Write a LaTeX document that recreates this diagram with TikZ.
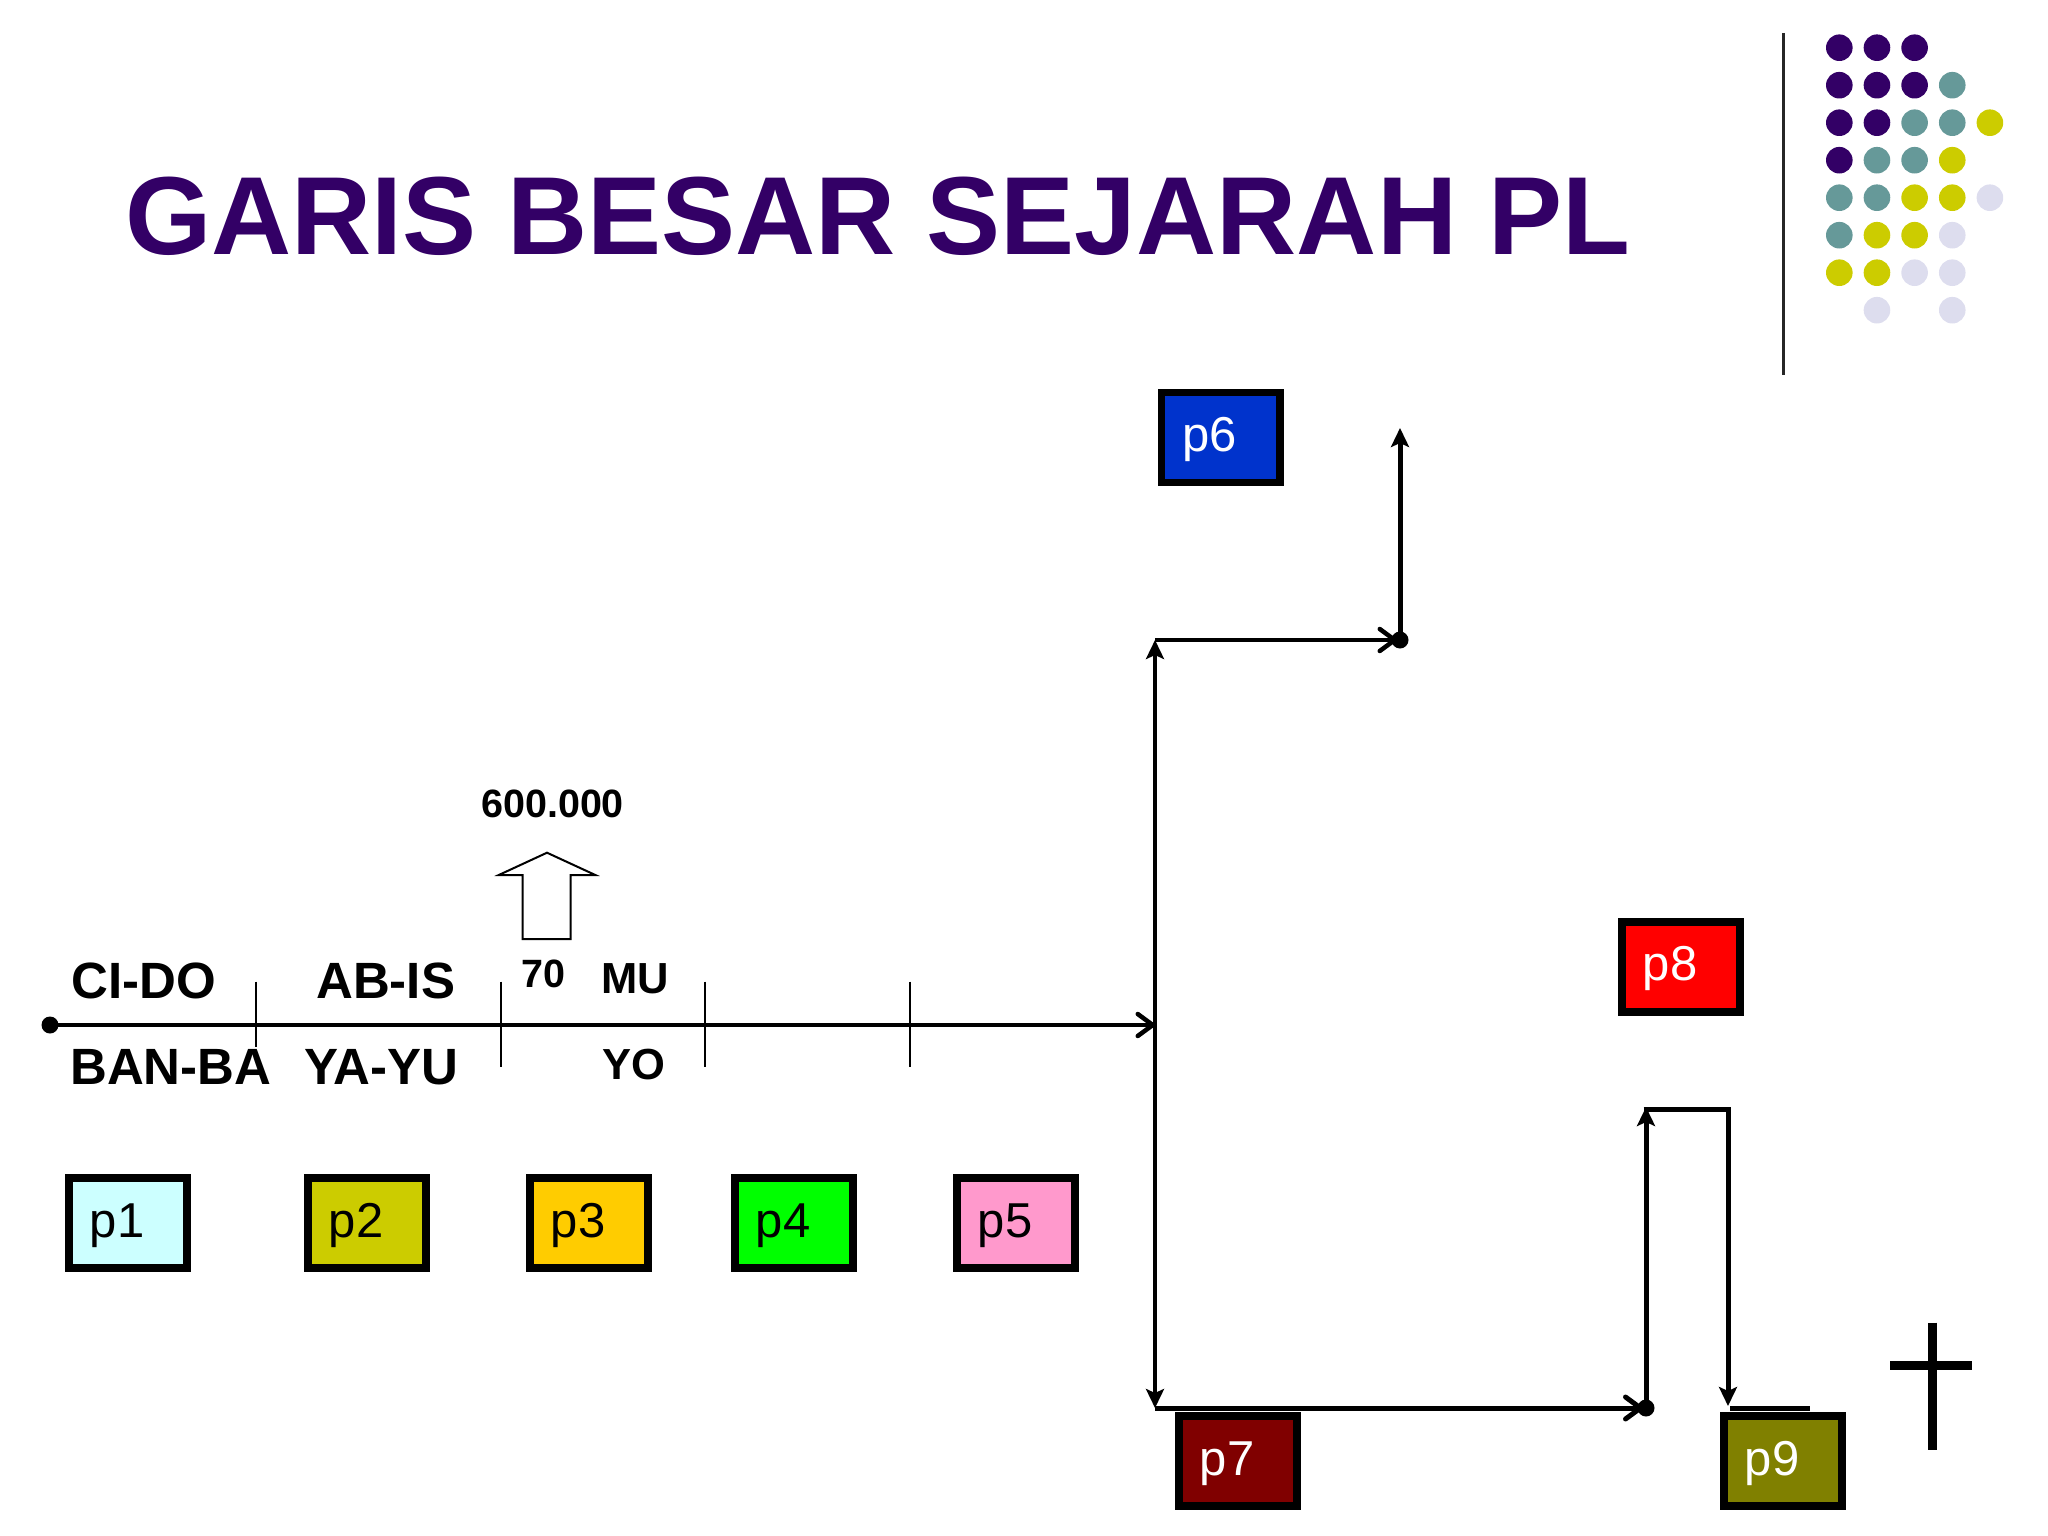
\documentclass[tikz,border=0pt]{standalone}
\usepackage{fontspec}
\setmainfont{Liberation Sans}
\usetikzlibrary{arrows.meta}
\definecolor{dpurple}{HTML}{330066}
\definecolor{dteal}{HTML}{669999}
\definecolor{dyel}{HTML}{CCCC00}
\definecolor{dlav}{HTML}{DDDDEE}
\definecolor{cp1}{HTML}{CCFFFF}
\definecolor{cp2}{HTML}{CCCC00}
\definecolor{cp3}{HTML}{FFCC00}
\definecolor{cp4}{HTML}{00FF00}
\definecolor{cp5}{HTML}{FF99CC}
\definecolor{cp6}{HTML}{0033CC}
\definecolor{cp7}{HTML}{800000}
\definecolor{cp8}{HTML}{FF0000}
\definecolor{cp9}{HTML}{808000}
\tikzset{
  pbox/.style={draw=black, line width=7.7pt, minimum height=90pt, inner xsep=21pt, inner ysep=0pt,
    text width=76.3pt, text height=35pt, text depth=7pt, align=left, font=\fontsize{49}{50}\selectfont},
  lbl/.style={anchor=base west, inner sep=0pt, font=\bfseries\fontsize{51}{52}\selectfont},
  lbls/.style={anchor=base west, inner sep=0pt, font=\bfseries\fontsize{43.5}{44}\selectfont},
  lblt/.style={anchor=base west, inner sep=0pt, font=\bfseries\fontsize{39.5}{40}\selectfont},
  conn/.style={line width=4.5pt},
  barb/.style={-{Straight Barb[length=15pt,width=22pt,round]}},
  stl/.style={-{Stealth[length=19pt,width=18pt,inset=4pt]}},
  tick/.style={line width=2pt},
  dotc/.style={fill=black},
}
\begin{document}
\begin{tikzpicture}[x=1pt,y=-1pt]
\useasboundingbox (0,0) rectangle (2048,1536);
% title
\node[anchor=base west, inner sep=0pt, text=dpurple, font=\bfseries\fontsize{111}{112}\selectfont] (title) at (125,254.3) {GARIS BESAR SEJARAH PL};
% separator
\draw[line width=3pt, black!85] (1783,33) -- (1783,375);
% dot grid
\foreach \c/\r/\col in {0/0/dpurple,1/0/dpurple,2/0/dpurple,
  0/1/dpurple,1/1/dpurple,2/1/dpurple,3/1/dteal,
  0/2/dpurple,1/2/dpurple,2/2/dteal,3/2/dteal,4/2/dyel,
  0/3/dpurple,1/3/dteal,2/3/dteal,3/3/dyel,
  0/4/dteal,1/4/dteal,2/4/dyel,3/4/dyel,4/4/dlav,
  0/5/dteal,1/5/dyel,2/5/dyel,3/5/dlav,
  0/6/dyel,1/6/dyel,2/6/dlav,3/6/dlav,
  1/7/dlav,3/7/dlav}
  \fill[\col] ({1839.3+37.65*\c},{47.7+37.5*\r}) circle (13.3);
% timeline
\coordinate (tstart) at (50,1025);
\coordinate (junc) at (1155,1025);
\draw[conn, barb] (tstart) -- (junc);
\fill[dotc] (tstart) circle (8.5);
\draw[tick] (255.5,981.7) -- (255.5,1046.7);
\draw[tick] (501,981.7) -- (501,1066.7);
\draw[tick] (705,981.7) -- (705,1066.7);
\draw[tick] (910,981.7) -- (910,1066.7);
% labels
\node[lbl] (cido) at (71,998.3) {CI-DO};
\node[lbl] (abis) at (316,998.3) {AB-IS};
\node[lblt] (seventy) at (521,987) {70};
\node[lbls] (mu) at (601,993.3) {MU};
\node[lbl, fill=white, inner ysep=2pt] (banba) at (70,1084) {BAN-BA};
\node[lbl] (yayu) at (304,1084) {YA-YU};
\node[lbls] (yo) at (602,1079) {YO};
\node[lblt] (sixk) at (481,817) {600.000};
% hollow arrow
\draw[line width=2pt, fill=white] (522.6,939) -- (522.6,875) -- (498.8,875) -- (547,852.7) -- (595.3,875) -- (570.5,875) -- (570.5,939) -- cycle;
% boxes
\node[pbox, fill=cp1] (p1) at (128,1223) {p1};
\node[pbox, fill=cp2] (p2) at (367,1223) {p2};
\node[pbox, fill=cp3] (p3) at (589,1223) {p3};
\node[pbox, fill=cp4] (p4) at (794,1223) {p4};
\node[pbox, fill=cp5] (p5) at (1016,1223) {p5};
\node[pbox, fill=cp6, text=white] (p6) at (1220.5,437.5) {p6};
\node[pbox, fill=cp7, text=white] (p7) at (1238,1461) {p7};
\node[pbox, fill=cp8, text=white] (p8) at (1681,966.7) {p8};
\node[pbox, fill=cp9, text=white] (p9) at (1783,1461) {p9};
% split branches
\coordinate (vtop) at (1155,640);
\coordinate (vbot) at (1155,1408);
\draw[conn, stl] (junc) -- (vtop);
\draw[conn, stl] (junc) -- (vbot);
% upper branch
\coordinate (dotA) at (1400,640);
\coordinate (upA) at (1400,428);
\draw[conn, barb] (vtop) -- (1397,640);
\fill[dotc] (dotA) circle (8.5);
\draw[conn, line width=5pt, stl] (dotA) -- (upA);
% lower branch
\coordinate (dotB) at (1646,1408);
\coordinate (upB) at (1646,1109.5);
\coordinate (cornB) at (1728,1109.5);
\coordinate (downB) at (1728,1406);
\coordinate (endB) at (1810,1408);
\draw[conn, line width=5pt, barb] (vbot) -- (1643,1408);
\fill[dotc] (dotB) circle (8.5);
\draw[conn, line width=5pt, stl] (dotB) -- (1646,1107);
\draw[conn, line width=5pt, stl] (1643.5,1109.5) -- (cornB) -- (downB);
\draw[conn, line width=5pt] (1730,1408) -- (endB);
% cross
\draw[line width=9pt] (1932,1322.7) -- (1932,1450);
\draw[line width=9pt] (1890,1365.5) -- (1972,1365.5);
\end{tikzpicture}
\end{document}
